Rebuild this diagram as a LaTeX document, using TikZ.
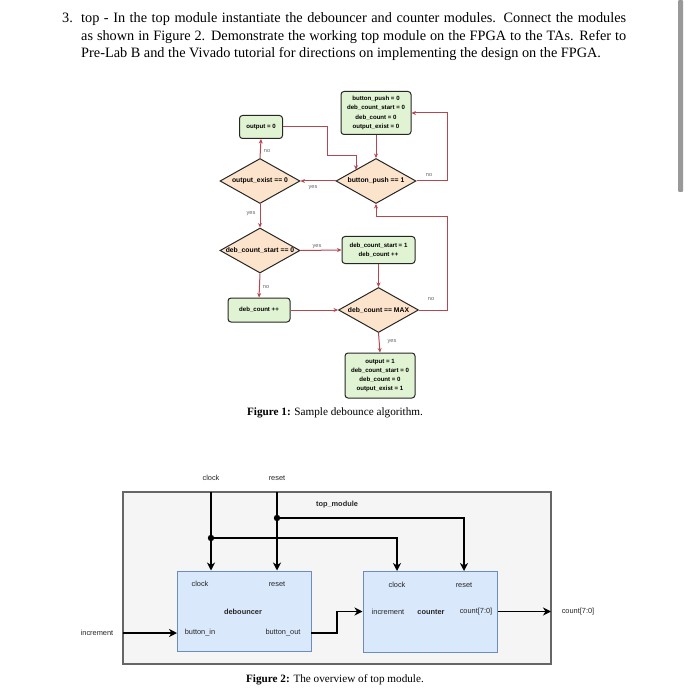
\documentclass[tikz,border=0pt]{standalone}
\usepackage{fontspec}
\setmainfont{Liberation Serif}
\newfontfamily\arialf{Liberation Sans}
\usetikzlibrary{shapes.geometric,arrows.meta,calc}
\definecolor{fcgreen}{HTML}{E0F3D2}
\definecolor{fcorange}{HTML}{FCE3CB}
\definecolor{fcred}{HTML}{B5474F}
\definecolor{blfill}{HTML}{DAE8FC}
\definecolor{blline}{HTML}{6C8EBF}
\definecolor{grfill}{HTML}{F5F5F5}
\definecolor{grline}{HTML}{666666}
\tikzset{
  gbox/.style={draw=black!85, line width=1pt, fill=fcgreen, rounded corners=3pt, align=center, inner sep=1pt,
    font=\arialf\bfseries\fontsize{6.1}{9.3}\selectfont},
  dbox/.style={diamond, draw=black!85, line width=1pt, fill=fcorange, inner sep=0pt, aspect=1.8,
    minimum width=80pt, minimum height=45pt, font=\arialf\bfseries\fontsize{6.8}{7}\selectfont},
  fl/.style={draw=fcred, line width=1pt, -{Stealth[length=4.5pt,width=4pt]}},
  fll/.style={text=black!60, font=\arialf\fontsize{5.6}{6}\selectfont, inner sep=0.5pt},
  blk/.style={draw=blline, line width=1pt, fill=blfill},
  wire/.style={line width=1.7pt, black},
  warr/.style={wire, -{Stealth[length=8pt,width=8pt,inset=2.5pt]}},
  plbl/.style={font=\arialf\fontsize{7.4}{8}\selectfont, text=black!85, inner sep=0pt},
  blbl/.style={font=\arialf\bfseries\fontsize{7.4}{8}\selectfont, text=black!85, inner sep=0pt},
  para/.style={font=\fontsize{14.3}{17}\selectfont, inner sep=0pt, anchor=base west},
  figcap/.style={font=\fontsize{11.2}{12}\selectfont, inner sep=0pt}
}
\begin{document}
\begin{tikzpicture}[x=1pt,y=-1pt]
\useasboundingbox (0,0) rectangle (689,700);
\fill[white] (0,0) rectangle (689,700);
% scrollbar
\fill[gray!80, rounded corners=1pt] (678,0) rectangle (683,192);

% paragraph
\node[para] (num) at (62,23) {3.};
\node[para] (l1) at (81,23) {\makebox[545pt][s]{top - In the top module instantiate the debouncer and counter modules. Connect the modules}};
\node[para] (l2) at (81,40.5) {\makebox[545pt][s]{as shown in Figure 2. Demonstrate the working top module on the FPGA to the TAs. Refer to}};
\node[para] (l3) at (81,58) {Pre-Lab B and the Vivado tutorial for directions on implementing the design on the FPGA.};

% ---------- Figure 1 ----------
\node[gbox, minimum width=70pt, minimum height=43pt] (s0) at (376,113) {button\_push = 0\\deb\_count\_start = 0\\deb\_count = 0\\output\_exist = 0};
\node[gbox, minimum width=43pt, minimum height=23pt] (out0) at (261,127) {output = 0};
\node[dbox] (bp) at (376,181) {button\_push == 1};
\node[dbox] (oe) at (260,181) {output\_exist == 0};
\node[dbox] (dcs) at (260,250.5) {deb\_count\_start == 0};
\node[gbox, minimum width=73pt, minimum height=27pt] (dcs1) at (378.5,250) {deb\_count\_start = 1\\deb\_count ++};
\node[gbox, minimum width=62pt, minimum height=24pt] (dcpp) at (259,310) {deb\_count ++};
\node[dbox] (max) at (378.5,310) {deb\_count == MAX};
\node[gbox, minimum width=70pt, minimum height=45pt] (fin) at (380,375.5) {output = 1\\deb\_count\_start = 0\\deb\_count = 0\\output\_exist = 1};

\coordinate (c1) at (327,156);
\coordinate (bpin) at (356,169.75);
\coordinate (c2) at (447,181);
\coordinate (c3) at (447,310);
\coordinate (c4) at (376,217);

\draw[fl] (s0.south) -- (bp.north);
\draw[fl] (out0.east) -| (c1) -| (bpin);
\draw[fl] (bp.west) -- (oe.east);
\draw[fl] (bp.east) -- (c2) |- (s0.east);
\draw[fl] (oe.north) -- (out0.south);
\draw[fl] (oe.south) -- (dcs.north);
\draw[fl] (dcs.east) -- (dcs1.west);
\draw[fl] (dcs.south) -- (dcpp.north);
\draw[fl] (dcs1.south) -- (max.north);
\draw[fl] (dcpp.east) -- (max.west);
\draw[fl] (max.east) -- (c3) |- (c4) -- (bp.south);
\draw[fl] (max.south) -- (fin.north);

\node[fll] (n1) at (313,187.5) {yes};
\node[fll] (n2) at (429,175) {no};
\node[fll] (n3) at (267,151) {no};
\node[fll] (n4) at (251,214) {yes};
\node[fll] (n5) at (317,247) {yes};
\node[fll] (n6) at (266,287) {no};
\node[fll] (n7) at (431,299) {no};
\node[fll] (n8) at (392,342) {yes};

\node[figcap] (cap1) at (335,413) {\textbf{Figure 1:} Sample debounce algorithm.};

% ---------- Figure 2 ----------
\node[draw=grline, line width=1.3pt, fill=grfill, minimum width=428pt, minimum height=172pt, inner sep=0pt] (top) at (337,578) {};
\node[blbl] (topl) at (337,505) {top\_module};
\node[blk, minimum width=134pt, minimum height=80pt] (deb) at (244,611) {};
\node[blk, minimum width=134pt, minimum height=81pt] (cnt) at (430,611.5) {};

\node[plbl] (clkl) at (211,478) {clock};
\node[plbl] (rstl) at (277,478) {reset};
\node[plbl] (dclk) at (200,584) {clock};
\node[plbl] (drst) at (277,584) {reset};
\node[blbl] (dname) at (243,612) {debouncer};
\node[plbl] (dbin) at (200,633) {button\_in};
\node[plbl] (dbout) at (283,633) {button\_out};
\node[plbl] (cclk) at (397,585) {clock};
\node[plbl] (crst) at (464,585) {reset};
\node[plbl] (cinc) at (388,612) {increment};
\node[blbl] (cname) at (431,612) {counter};
\node[plbl] (ccnt) at (476,612) {count[7:0]};
\node[plbl] (incl) at (97,633) {increment};
\node[plbl] (cntl) at (578,612) {count[7:0]};

\coordinate (clkin) at (211,492);
\coordinate (rstin) at (277,492);
\coordinate (clkdot) at (211,538);
\coordinate (rstdot) at (277,518);
\coordinate (cclkt) at (397,571);
\coordinate (crstt) at (464,571);
\coordinate (incin) at (123,633);
\coordinate (dbinp) at (177,633);
\coordinate (dboutp) at (311,633);
\coordinate (cntout) at (551,611.5);

\draw[warr] (clkin) -- (clkin |- deb.north);
\draw[warr] (rstin) -- (rstin |- deb.north);
\draw[warr] (clkdot) -| (cclkt);
\draw[warr] (rstdot) -| (crstt);
\fill (clkdot) circle (3.2pt);
\fill (rstdot) circle (3.2pt);
\draw[warr] (incin) -- (dbinp);
\draw[warr] (dboutp) -- ++(26,0) |- (cnt.west);
\draw[warr] (cnt.east) -- (cntout);

\node[figcap] (cap2) at (335,680) {\textbf{Figure 2:} The overview of top module.};
\end{tikzpicture}
\end{document}
